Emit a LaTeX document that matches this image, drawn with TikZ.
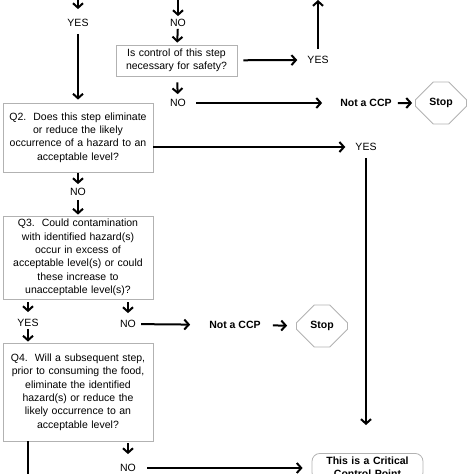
\documentclass[tikz,border=0pt]{standalone}
\usepackage{fontspec}
\setmainfont{Liberation Sans}
\usetikzlibrary{arrows.meta,shapes.misc}

\newcommand*{\wmax}{474}
\newcommand*{\hmax}{474}

\tikzset{
	txt/.style={font=\fontsize{10.5pt}{13.4pt}\selectfont, inner sep=1pt},
	lbl/.style={txt},
	bold/.style={txt, font=\fontsize{10.5pt}{13.4pt}\selectfont\bfseries},
	qbox/.style={txt, draw=gray!60, line width=0.8pt, align=center, text width=146pt, inner xsep=2pt},
	stop/.style={bold, draw=gray!60, line width=0.8pt, chamfered rectangle, chamfered rectangle xsep=12.5pt, chamfered rectangle ysep=12pt, minimum width=51pt, minimum height=42pt},
	ccp/.style={bold, draw=gray!60, line width=0.8pt, rounded corners=8pt, align=center, text width=105pt, inner xsep=3pt, inner ysep=3pt},
	flow/.style={line width=2pt, -{Straight Barb[length=4.5pt,width=10pt]}},
	wire/.style={line width=2pt},
}

\begin{document}
\begin{tikzpicture}[x=1pt,y=-1pt]

	\useasboundingbox (0,0) rectangle (\wmax,\hmax);
	\clip (0,0) rectangle (\wmax,\hmax);

	% answers of the question above
	\coordinate (q1a) at (78,-6);
	\coordinate (q1b) at (178,-6);
	\node[lbl] (yes1) at (78,23) {YES};
	\node[lbl] (no1) at (178,23) {NO};
	\node[qbox, text width=117pt, minimum height=31pt] (safe) at (176.5,60.5) {Is control of this step\\necessary for safety?};
	\node[lbl] (yes1b) at (318,60) {YES};
	\coordinate (up) at (318,0);
	\node[lbl] (no1b) at (178,103) {NO};
	\node[bold] (ncp1) at (366,103) {Not a CCP};
	\node[stop] (stop1) at (441,103) {Stop};

	% Q2
	\node[qbox, minimum height=69pt] (q2) at (78,137.5) {Q2.\ \ Does this step eliminate\\or reduce the likely\\occurrence of a hazard to an\\acceptable level?};
	\node[lbl] (yes2) at (366,147) {YES};
	\coordinate (down) at (366,425);
	\node[lbl] (no2) at (78,192) {NO};

	% Q3
	\node[qbox, minimum height=83pt] (q3) at (78,257.5) {Q3.\ \ Could contamination\\with identified hazard(s)\\occur in excess of\\acceptable level(s) or could\\these increase to\\unacceptable level(s)?};
	\node[lbl] (yes3) at (28,323) {YES};
	\node[lbl] (no3) at (128,324) {NO};
	\node[bold] (ncp2) at (235,325) {Not a CCP};
	\node[stop] (stop2) at (322,326) {Stop};

	% Q4
	\node[qbox, minimum height=98pt] (q4) at (78,392) {Q4.\ \ Will a subsequent step,\\prior to consuming the food,\\eliminate the identified\\hazard(s) or reduce the\\likely occurrence to an\\acceptable level?};
	\node[lbl] (no4) at (128,468) {NO};
	\coordinate (q4out) at (28,480);
	\node[ccp, anchor=north] (ccp) at (367.5,453) {This is a Critical\\Control Point};

	% connectors
	\draw[flow, shorten >=9pt] (q1a) -- (yes1);
	\draw[flow, shorten >=2pt] (q1b) -- (no1);
	\draw[flow, shorten <=1pt, shorten >=2pt] (no1) -- (safe);
	\draw[flow, shorten <=6pt, shorten >=9pt] (safe) -- (yes1b);
	\draw[flow, shorten <=6pt] (yes1b) -- (up);
	\draw[flow, shorten <=6pt, shorten >=4pt] (safe) -- (no1b);
	\draw[flow, shorten <=9pt, shorten >=17pt] (no1b) -- (ncp1);
	\draw[flow, shorten <=5pt, shorten >=3pt] (ncp1) -- (stop1);

	\draw[flow, shorten <=6pt, shorten >=3pt] (yes1) -- (q2);
	\draw[flow, shorten >=9pt] (q2.east |- yes2) -- (yes2);
	\draw[flow, shorten <=6pt] (yes2) -- (down);
	\draw[flow, shorten <=1pt, shorten >=3pt] (q2) -- (no2);
	\draw[flow, shorten <=3pt, shorten >=1pt] (no2) -- (q3);

	\draw[flow, shorten <=3pt, shorten >=6pt] (q3.south -| yes3) -- (yes3);
	\draw[flow, shorten <=3pt, shorten >=6pt] (q3.south -| no3) -- (no3);
	\draw[flow, shorten <=4pt, shorten >=18pt] (no3) -- (ncp2);
	\draw[flow, shorten <=11pt, shorten >=9pt] (ncp2) -- (stop2);
	\draw[flow, shorten <=1pt, shorten >=1pt] (yes3) -- (q4.north -| yes3);

	\draw[flow, shorten <=2pt, shorten >=9pt] (q4.south -| no4) -- (no4);
	\draw[flow, shorten <=10pt, shorten >=9pt] (no4) -- (ccp.west |- no4);
	\draw[wire] (q4.south -| q4out) -- (q4out);

\end{tikzpicture}
\end{document}
